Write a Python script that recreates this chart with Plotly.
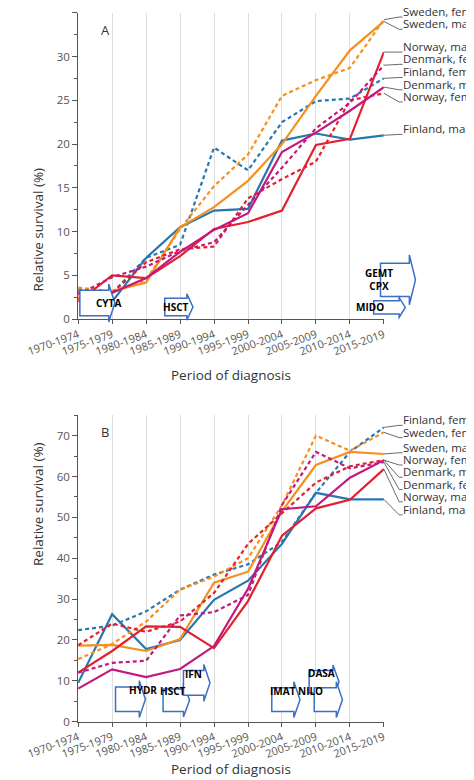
import plotly.graph_objects as go

periods = ["1970-1974", "1975-1979", "1980-1984", "1985-1989", "1990-1994",
           "1995-1999", "2000-2004", "2005-2009", "2010-2014", "2015-2019"]

# Panel A
a_fin_m = [3.2, 2.0, 7.0, 10.5, 12.4, 12.6, 20.4, 21.2, 20.5, 21.0]
a_fin_f = [3.4, 3.0, 7.0, 8.5, 19.6, 17.0, 22.5, 24.9, 25.2, 27.5]
a_swe_m = [2.5, 3.2, 4.2, 10.5, 12.8, 15.8, 20.0, 25.5, 30.7, 34.0]
a_swe_f = [3.6, 3.2, 4.5, 10.3, 15.2, 18.8, 25.5, 27.3, 28.7, 34.2]
a_nor_m = [2.0, 5.0, 4.7, 7.2, 10.3, 11.1, 12.4, 19.9, 20.6, 30.5]
a_nor_f = [2.3, 3.0, 6.5, 8.0, 8.3, 13.8, 16.0, 18.0, 25.0, 25.8]
a_den_m = [3.0, 3.0, 4.7, 7.7, 10.2, 12.1, 19.1, 21.3, 23.8, 26.5]
a_den_f = [2.8, 4.8, 6.0, 7.8, 8.8, 13.0, 17.3, 21.8, 24.7, 29.0]

# Panel B
b_fin_m = [9.5, 26.3, 17.8, 20.0, 29.8, 34.5, 43.5, 56.0, 54.4, 54.4]
b_fin_f = [22.4, 23.5, 27.0, 32.3, 36.0, 38.5, 44.0, 56.0, 66.0, 72.0]
b_swe_m = [18.6, 18.8, 17.3, 20.2, 34.0, 36.7, 51.5, 62.8, 66.0, 65.5]
b_swe_f = [15.3, 19.0, 24.5, 32.3, 35.5, 40.0, 53.0, 70.0, 66.3, 70.8]
b_nor_m = [12.0, 17.3, 23.3, 23.2, 18.0, 29.5, 45.5, 52.2, 54.3, 61.8]
b_nor_f = [18.7, 24.0, 22.0, 24.5, 31.5, 43.5, 51.0, 58.5, 62.5, 64.0]
b_den_m = [8.1, 12.8, 10.9, 12.9, 18.5, 32.5, 52.0, 52.7, 59.7, 64.0]
b_den_f = [12.0, 14.4, 14.9, 26.0, 26.8, 31.0, 53.0, 66.0, 62.0, 63.5]

COLORS = {"Finland": "#2878b0", "Sweden": "#f5901e", "Norway": "#e2202e", "Denmark": "#c4187c"}

panel_a = [("Finland", "males", a_fin_m), ("Finland", "females", a_fin_f),
           ("Sweden", "males", a_swe_m), ("Sweden", "females", a_swe_f),
           ("Norway", "males", a_nor_m), ("Norway", "females", a_nor_f),
           ("Denmark", "males", a_den_m), ("Denmark", "females", a_den_f)]
panel_b = [("Finland", "males", b_fin_m), ("Finland", "females", b_fin_f),
           ("Sweden", "males", b_swe_m), ("Sweden", "females", b_swe_f),
           ("Norway", "males", b_nor_m), ("Norway", "females", b_nor_f),
           ("Denmark", "males", b_den_m), ("Denmark", "females", b_den_f)]

# label y positions on the right (data units)
labels_a = {"Sweden, females": 34.5, "Sweden, males": 33.1, "Norway, males": 30.5,
            "Denmark, females": 29.1, "Finland, females": 27.6, "Denmark, males": 26.2,
            "Norway, females": 24.8, "Finland, males": 21.1}
labels_b = {"Finland, females": 72.5, "Sweden, females": 69.5, "Sweden, males": 65.8,
            "Norway, females": 62.8, "Denmark, males": 59.8, "Denmark, females": 56.8,
            "Norway, males": 53.8, "Finland, males": 50.6}

FONT = "Open Sans"
XDOM = [0.148, 0.793]
YDOM_A = [0.601, 0.994]
YDOM_B = [0.085, 0.478]
YMAX = {"y": 35, "y2": 75}
YDOM = {"y": YDOM_A, "y2": YDOM_B}


def px(xv):
    return XDOM[0] + xv / 9 * (XDOM[1] - XDOM[0])


def py(yv, ya):
    d = YDOM[ya]
    return d[0] + yv / YMAX[ya] * (d[1] - d[0])


fig = go.Figure()
x = list(range(len(periods)))

for series, xa, ya, labels in [(panel_a, "x", "y", labels_a), (panel_b, "x2", "y2", labels_b)]:
    for country, sex, vals in series:
        fig.add_trace(go.Scatter(
            x=x, y=vals, mode="lines", xaxis=xa, yaxis=ya, showlegend=False,
            line=dict(color=COLORS[country], width=2.2,
                      dash="solid" if sex == "males" else "4px,3px")))
        name = f"{country}, {sex}"
        fig.add_shape(type="path", xref="paper", yref="paper", layer="above",
                      path=f"M {px(9)},{py(vals[-1], ya)} L {px(9.45)},{py(labels[name], ya)} "
                           f"L {px(9.55)},{py(labels[name], ya)}",
                      line=dict(color="#444", width=0.8))
        fig.add_annotation(x=px(9.5), y=py(labels[name], ya), xref="paper", yref="paper",
                           text=name, showarrow=False, xanchor="left", yanchor="bottom",
                           yshift=-4, font=dict(size=11.5, color="#333", family=FONT))

# treatment arrows: (text, x0, x1, y0, y1, panel)
treatments = [("CYTA", 0.05, 0.9, 0.4, 3.3, "y"),
              ("HSCT", 2.55, 3.2, 0.4, 2.4, "y"),
              ("GEMT<br>CPX", 8.9, 9.75, 2.6, 6.4, "y"),
              ("MIDO", 8.7, 9.45, 0.6, 2.1, "y"),
              ("HYDR", 1.1, 1.8, 2.5, 8.5, "y2"),
              ("HSCT", 2.5, 3.1, 2.5, 8.0, "y2"),
              ("IFN", 3.1, 3.7, 6.5, 12.5, "y2"),
              ("IMAT", 5.7, 6.35, 2.5, 8.3, "y2"),
              ("DASA", 6.8, 7.5, 7.0, 12.5, "y2"),
              ("NILO", 6.95, 7.6, 2.5, 8.3, "y2")]
for text, x0, x1, y0, y1, ya in treatments:
    h = y1 - y0
    X0, X1, XH = px(x0), px(x1), px(x1 + 0.18)
    Y0, Y1 = py(y0, ya), py(y1, ya)
    Yl, Yh, Ym = py(y0 - h * 0.25, ya), py(y1 + h * 0.25, ya), py((y0 + y1) / 2, ya)
    path = f"M {X0},{Y0} L {X1},{Y0} L {X1},{Yl} L {XH},{Ym} L {X1},{Yh} L {X1},{Y1} L {X0},{Y1} Z"
    fig.add_shape(type="path", path=path, xref="paper", yref="paper",
                  line=dict(color="#3a6fc4", width=1.5), fillcolor="white", layer="above")
    fig.add_annotation(x=(X0 + X1) / 2, y=Ym, xref="paper", yref="paper", text=f"<b>{text}</b>",
                       showarrow=False, font=dict(size=10, color="black", family=FONT))

for letter, xa, ya, yv in [("A", "x", "y", 33), ("B", "x2", "y2", 71)]:
    fig.add_annotation(x=0.8, y=yv, xref=xa, yref=ya, text=letter, showarrow=False,
                       font=dict(size=13, color="#333", family=FONT))

for yp in [0.798, 0.282]:
    fig.add_annotation(x=0.04, y=yp, xref="paper", yref="paper", text="Relative survival (%)",
                       textangle=-90, showarrow=False, font=dict(size=13.5, color="#333", family=FONT))
for yp in [0.529, 0.01]:
    fig.add_annotation(x=0.47, y=yp, xref="paper", yref="paper", text="Period of diagnosis",
                       showarrow=False, font=dict(size=13.5, color="#333", family=FONT))

xax = dict(range=[0, 9], tickmode="array", tickvals=x, ticktext=periods, tickangle=-20,
           showgrid=True, gridcolor="#dddddd", showline=True, linecolor="#555",
           ticks="outside", ticklen=4, tickcolor="#555", zeroline=False, automargin=False,
           tickfont=dict(size=11, color="#555", family=FONT), domain=XDOM)
yax = dict(showgrid=False, showline=True, linecolor="#555", ticks="outside", ticklen=5,
           tickcolor="#555", zeroline=False, automargin=False,
           tickfont=dict(size=11.5, color="#555", family=FONT),
           minor=dict(ticks="outside", ticklen=3, tickcolor="#555"))

fig.update_layout(
    width=474, height=780, margin=dict(l=0, r=0, t=0, b=0, autoexpand=False),
    plot_bgcolor="white", paper_bgcolor="white", showlegend=False,
    xaxis=dict(xax, anchor="y"),
    yaxis=dict(yax, range=[0, 35], dtick=5, minor=dict(yax["minor"], dtick=2.5),
               domain=YDOM_A, anchor="x"),
    xaxis2=dict(xax, anchor="y2"),
    yaxis2=dict(yax, range=[0, 75], tickvals=[0, 10, 20, 30, 40, 50, 60, 70],
                minor=dict(yax["minor"], dtick=5), domain=YDOM_B, anchor="x2"),
)

fig.write_html("out.html")
